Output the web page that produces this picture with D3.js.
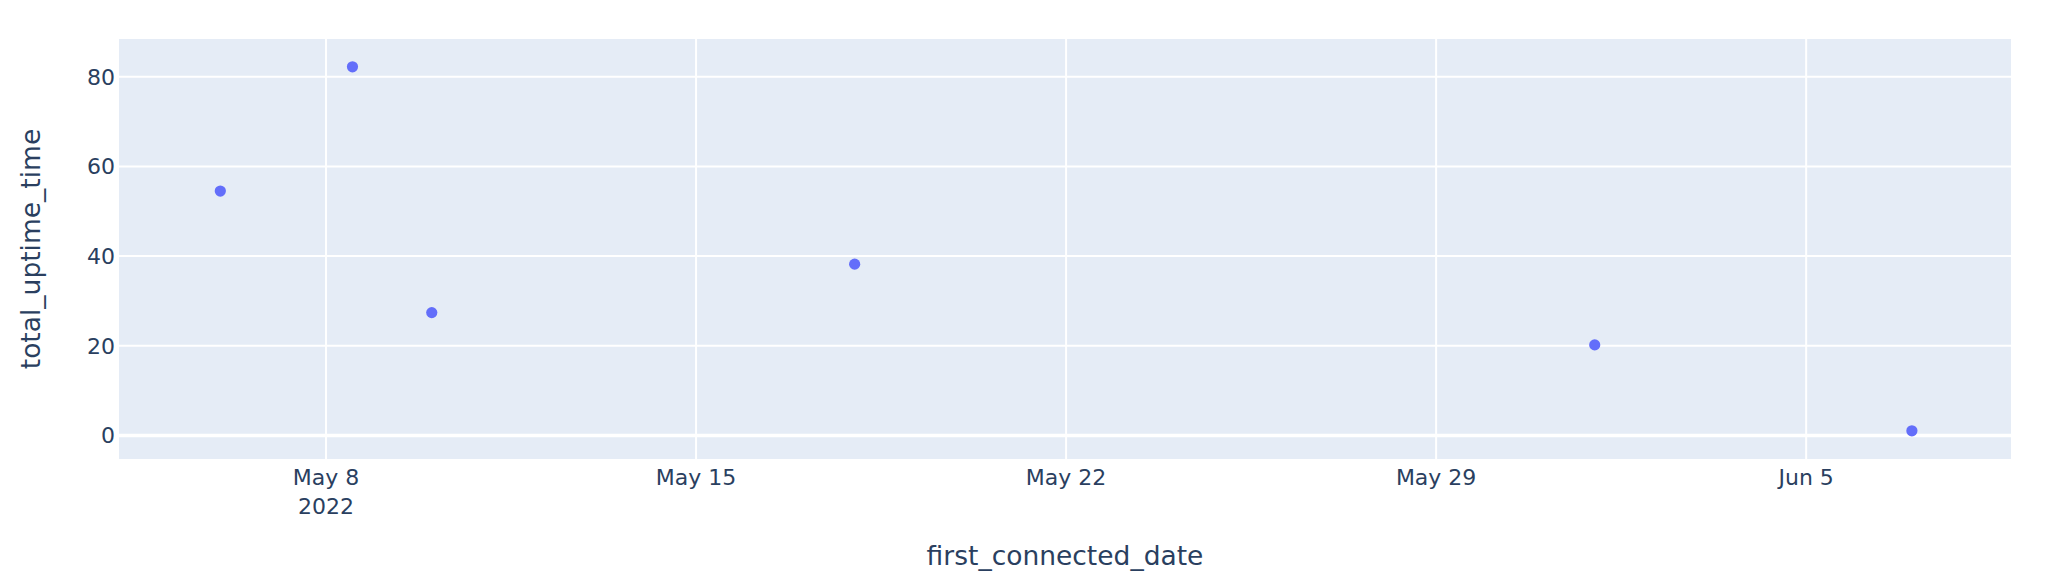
<!DOCTYPE html>
<html>
<head>
<meta charset="utf-8">
<script src="https://cdn.jsdelivr.net/npm/d3@7"></script>
<style>
html,body{margin:0;padding:0;background:#fff;}
svg{display:block;}
</style>
</head>
<body>
<svg id="chart" width="2048" height="580"></svg>
<script>
const dates = ["2022-05-06T00:00","2022-05-10T00:00","2022-05-08T12:00","2022-05-18T00:00","2022-06-01T00:00","2022-06-07T00:00"];
const uptime = [54.5, 27.4, 82.2, 38.2, 20.2, 1.05];
const yTicks = [0, 20, 40, 60, 80];
const xTickDates = ["2022-05-08T00:00","2022-05-15T00:00","2022-05-22T00:00","2022-05-29T00:00","2022-06-05T00:00"];
const xTickLabels = [["May 8","2022"],["May 15"],["May 22"],["May 29"],["Jun 5"]];
const xTitle = "first_connected_date";
const yTitle = "total_uptime_time";

const parse = d3.utcParse("%Y-%m-%dT%H:%M");
const W = 2048, H = 580;
const m = {l:119, r:37, t:39, b:121};
const pw = W - m.l - m.r, ph = H - m.t - m.b;
const font = "'DejaVu Sans', Verdana, sans-serif";
const textColor = "#2a3f5f";

const svg = d3.select("#chart");
const g = svg.append("g").attr("transform", `translate(${m.l},${m.t})`);

const x = d3.scaleUtc()
  .domain([new Date(Date.UTC(2022,4,4,2,0)), new Date(Date.UTC(2022,5,8,21,0))])
  .range([0, pw]);
const y = d3.scaleLinear().domain([-5.24, 88.4]).range([ph, 0]);

g.append("rect").attr("width", pw).attr("height", ph).attr("fill", "#E5ECF6");

// vertical grid
g.selectAll(".vg").data(xTickDates).enter().append("line")
  .attr("x1", d => x(parse(d))).attr("x2", d => x(parse(d)))
  .attr("y1", 0).attr("y2", ph)
  .attr("stroke", "#fff").attr("stroke-width", 2);

// horizontal grid
g.selectAll(".hg").data(yTicks).enter().append("line")
  .attr("x1", 0).attr("x2", pw)
  .attr("y1", d => y(d)).attr("y2", d => y(d))
  .attr("stroke", "#fff").attr("stroke-width", d => d === 0 ? 3.6 : 2);

// y tick labels
g.selectAll(".yl").data(yTicks).enter().append("text")
  .attr("x", -4).attr("y", d => y(d)).attr("dy", "0.36em")
  .attr("text-anchor", "end")
  .attr("font-family", font).attr("font-size", 22).attr("fill", textColor)
  .text(d => d);

// x tick labels
xTickDates.forEach((d, i) => {
  const t = g.append("text")
    .attr("x", x(parse(d))).attr("y", ph + 26)
    .attr("text-anchor", "middle")
    .attr("font-family", font).attr("font-size", 22).attr("fill", textColor);
  xTickLabels[i].forEach((s, j) => {
    t.append("tspan").attr("x", x(parse(d))).attr("dy", j === 0 ? 0 : 29).text(s);
  });
});

// points
g.selectAll(".pt").data(dates.map((d, i) => ({d: parse(d), v: uptime[i]}))).enter()
  .append("circle")
  .attr("cx", p => x(p.d)).attr("cy", p => y(p.v))
  .attr("r", 5.6).attr("fill", "#636EFA");

// axis titles
svg.append("text")
  .attr("x", m.l + pw / 2).attr("y", 565)
  .attr("text-anchor", "middle")
  .attr("font-family", font).attr("font-size", 26.5).attr("fill", textColor)
  .text(xTitle);

svg.append("text")
  .attr("transform", `translate(40,${m.t + ph / 2}) rotate(-90)`)
  .attr("text-anchor", "middle")
  .attr("font-family", font).attr("font-size", 26.5).attr("fill", textColor)
  .text(yTitle);
</script>
</body>
</html>
